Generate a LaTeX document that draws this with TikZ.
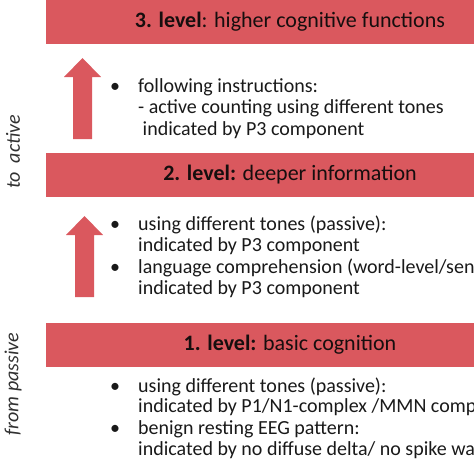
\documentclass[tikz,border=0pt]{standalone}
\usepackage{fontspec}
\setmainfont{Carlito}
\usetikzlibrary{positioning}
\definecolor{barred}{RGB}{218,88,94}
\definecolor{ink}{RGB}{25,25,25}
\tikzset{
  bar/.style={fill=barred,text=ink!85!barred!40!black,minimum width=488pt,minimum height=44pt,
    inner sep=0pt,font=\fontsize{22}{26}\selectfont},
  line/.style={anchor=base west,inner sep=0pt,text=ink,font=\fontsize{20}{22}\selectfont},
  dot/.style={anchor=base,inner sep=0pt,text=ink,font=\fontsize{20}{22}\selectfont},
  side/.style={rotate=90,inner sep=0pt,text=ink!90,font=\fontsize{20}{22}\selectfont\itshape},
  % block arrow pointing up, anchored at the middle of its foot
  pics/uparrow/.style={code={
    \fill[#1] (-9.5,0) -- (-9.5,-62) -- (-18.5,-62) -- (0,-81) -- (18.5,-62) -- (9.5,-62) -- (9.5,0) -- cycle;
  }},
  pics/uparrow/.default=barred,
}
\begin{document}
\begin{tikzpicture}[x=1pt,y=-1pt]
  \useasboundingbox (0,0) rectangle (474,474);
  \clip (0,0) rectangle (474,474);
  % level bars
  \node[bar] (lvl3) at (290,22) {\textbf{3. level}: higher cognitive functions};
  \node[bar] (lvl2) at (290,175) {\textbf{2. level:} deeper information};
  \node[bar] (lvl1) at (290,345) {\textbf{1. level:} basic cognition};
  % arrows
  \pic at (82.5,139) {uparrow};
  \pic at (84.5,297) {uparrow};
  % level 3 items
  \node[dot] (d3a) at (115,92) {\textbullet};
  \node[line] (t3a) at (138,92) {following instructions:};
  \node[line] (t3b) at (138,113.5) {- active counting using different tones};
  \node[line] (t3c) at (138,135) {~indicated by P3 component};
  % level 2 items
  \node[dot] (d2a) at (115,230) {\textbullet};
  \node[line] (t2a) at (138,230) {using different tones (passive):};
  \node[line] (t2b) at (138,251) {indicated by P3 component};
  \node[dot] (d2b) at (115,273) {\textbullet};
  \node[line] (t2c) at (138,273) {language comprehension (word-level/sentence-level):};
  \node[line] (t2d) at (138,294) {indicated by P3 component};
  % level 1 items
  \node[dot] (d1a) at (115,392) {\textbullet};
  \node[line] (t1a) at (138,392) {using different tones (passive):};
  \node[line] (t1b) at (138,412) {indicated by P1/N1-complex /MMN component};
  \node[dot] (d1b) at (115,434) {\textbullet};
  \node[line] (t1c) at (138,434) {benign resting EEG pattern:};
  \node[line] (t1d) at (138,455) {indicated by no diffuse delta/ no spike waves};
  % side labels
  \node[side] (toact) at (13,152) {to~ active};
  \node[side] (frompas) at (13,384) {from passive};
\end{tikzpicture}
\end{document}
